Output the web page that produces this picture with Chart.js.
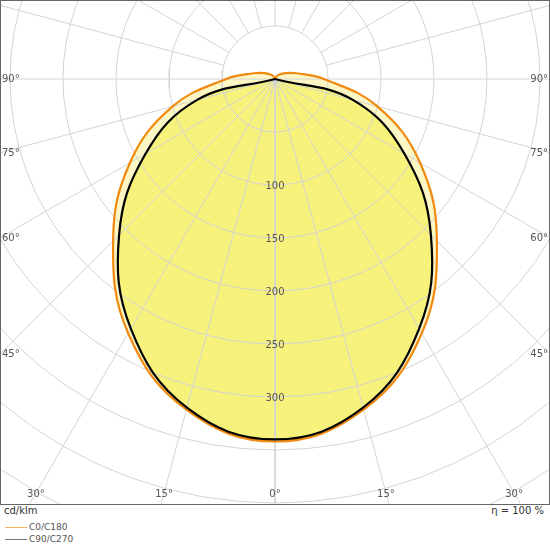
<!DOCTYPE html>
<html>
<head>
<meta charset="utf-8">
<script src="https://cdn.jsdelivr.net/npm/chart.js@4/dist/chart.umd.min.js"></script>
<style>
  body { margin: 0; background: #fff; font-family: "DejaVu Sans", sans-serif; }
  #wrap { position: relative; width: 550px; height: 505px; }
  .foot { position: absolute; font-size: 10px; color: #333; }
  .leg { position: absolute; left: 5px; font-size: 9px; color: #555; }
  .leg span { display: inline-block; width: 22px; height: 1px; vertical-align: middle; margin-right: 2px; }
</style>
</head>
<body>
<div id="wrap"><canvas id="polar" width="550" height="505"></canvas></div>
<div class="foot" style="left:4px;top:505px">cd/klm</div>
<div class="foot" style="right:6px;top:505px">η = 100 %</div>
<div class="leg" style="top:522px"><span style="background:#f5b060"></span>C0/C180</div>
<div class="leg" style="top:534px"><span style="background:#777"></span>C90/C270</div>
<script>
// Luminous intensity (cd/klm) by angle from nadir
const angles = [0, 15, 30, 45, 60, 75, 90, 105, 120, 135, 150, 165, 180];
const c0c180 = [342, 323, 277, 216, 158, 100, 46, 21, 11, 6, 3, 1, 0];
const c90c270 = [340, 321, 272, 208, 141, 76, 0, 0, 0, 0, 0, 0, 0];
const gridRadii = [50, 100, 150, 200, 250, 300, 350, 400, 450, 500];
const radialLabels = [100, 150, 200, 250, 300];
const sideLabels = [90, 75, 60, 45];
const bottomLabels = [30, 15, 0, 15, 30];

const PX = 1.06; // px per cd
const toXY = (deg, r) => ({ x: r * Math.sin(deg * Math.PI / 180), y: -r * Math.cos(deg * Math.PI / 180) });

function curve(vals) {
  const pts = [];
  for (let i = angles.length - 1; i > 0; i--) pts.push(toXY(-angles[i], vals[i]));
  for (let i = 0; i < angles.length; i++) pts.push(toXY(angles[i], vals[i]));
  return pts;
}

const grid = [];
gridRadii.forEach(r => {
  for (let a = 0; a <= 360; a += 5) grid.push(toXY(a, r));
  grid.push({ x: null, y: null });
});
for (let a = 0; a < 360; a += 15) {
  const start = (a > 90 && a < 270) ? 50 : 0;
  grid.push(toXY(a, start), toXY(a, 600), { x: null, y: null });
}

const labelPlugin = {
  id: 'labels',
  afterDraw(chart) {
    const { ctx, scales: { x, y }, chartArea } = chart;
    ctx.save();
    ctx.font = '10px "DejaVu Sans"';
    ctx.fillStyle = '#555';
    ctx.textAlign = 'center';
    radialLabels.forEach(r => ctx.fillText(r, x.getPixelForValue(0), y.getPixelForValue(-r) + 4));
    const cy = y.getPixelForValue(0), cx = x.getPixelForValue(0);
    sideLabels.forEach(a => {
      const t = Math.tan((90 - a) * Math.PI / 180);
      const py = cy + (chartArea.right - cx) * t;
      ctx.textAlign = 'left'; ctx.fillText(a + '°', 2, py + 3);
      ctx.textAlign = 'right'; ctx.fillText(a + '°', chartArea.right - 2, py + 3);
    });
    ctx.textAlign = 'center';
    bottomLabels.forEach((a, i) => {
      const s = i < 2 ? -1 : 1;
      const px = cx + s * (chartArea.bottom - 12 - cy) * Math.tan(a * Math.PI / 180);
      ctx.fillText(a + '°', px, chartArea.bottom - 8);
    });
    ctx.strokeStyle = '#666'; ctx.lineWidth = 1;
    ctx.strokeRect(chartArea.left + 0.5, chartArea.top + 0.5, chartArea.width - 1, chartArea.height - 1);
    ctx.restore();
  }
};

const halfW = 275 / PX;
new Chart(document.getElementById('polar'), {
  type: 'scatter',
  data: {
    datasets: [
      { data: curve(c90c270), showLine: true, borderColor: '#000', borderWidth: 2.2, pointRadius: 0, tension: 0.4, fill: false, order: 1 },
      { data: curve(c0c180), showLine: true, borderColor: '#f08a10', borderWidth: 2.2, pointRadius: 0, tension: 0.4, fill: false, order: 2 },
      { data: grid, showLine: true, borderColor: '#d4d4d4', borderWidth: 1, pointRadius: 0, spanGaps: false, order: 3 },
      { data: curve(c90c270), showLine: true, borderWidth: 0, pointRadius: 0, tension: 0.4, fill: 'shape', backgroundColor: '#f7f27c', order: 4 },
      { data: curve(c0c180), showLine: true, borderWidth: 0, pointRadius: 0, tension: 0.4, fill: 'shape', backgroundColor: '#fcf7c4', order: 5 }
    ]
  },
  options: {
    responsive: false,
    animation: false,
    layout: { padding: 0 },
    plugins: { legend: { display: false }, tooltip: { enabled: false } },
    scales: {
      x: { display: false, min: -halfW, max: halfW },
      y: { display: false, min: -426 / PX, max: 79 / PX }
    }
  },
  plugins: [labelPlugin]
});
</script>
</body>
</html>
